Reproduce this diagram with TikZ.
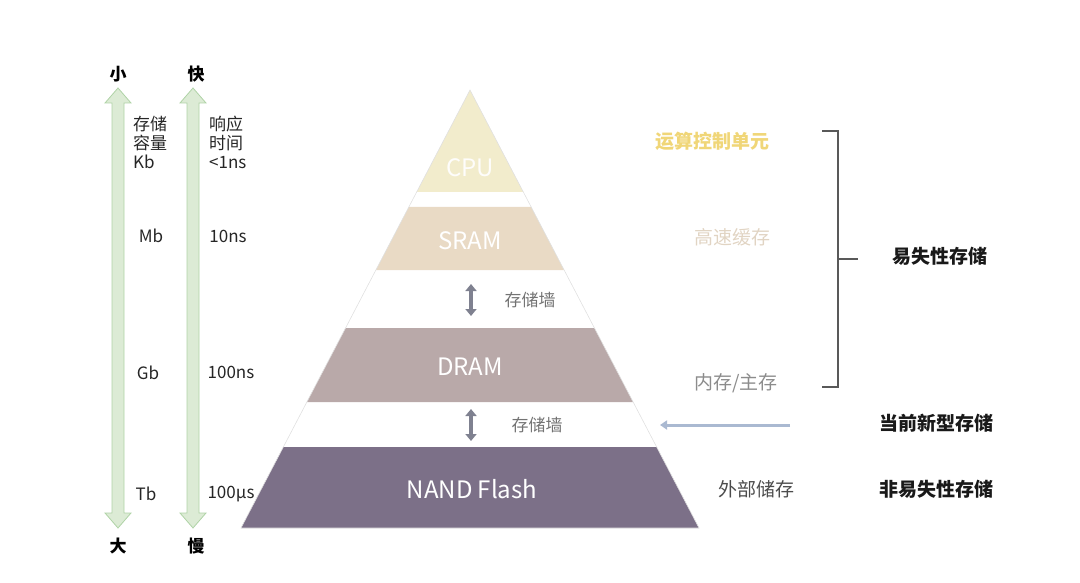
\documentclass[tikz,border=0pt]{standalone}
\usepackage{fontspec}
\setmainfont{Noto Sans CJK SC}
\usetikzlibrary{arrows.meta}
\definecolor{cpu}{HTML}{F2ECCC}
\definecolor{sram}{HTML}{E9DAC5}
\definecolor{dram}{HTML}{B9A9A9}
\definecolor{nand}{HTML}{7C7088}
\definecolor{gfill}{HTML}{DCEBD5}
\definecolor{gline}{HTML}{AFD3A6}
\definecolor{wallc}{HTML}{7F8190}
\definecolor{bluea}{HTML}{AAB9D1}
\tikzset{
  lbl/.style={font=\fontsize{17}{19}\selectfont, text=black!85, align=left, inner sep=0},
  big/.style={font=\fontsize{24}{26}\selectfont, text=white, inner sep=0},
  side/.style={font=\fontsize{19}{21}\selectfont, inner sep=0},
  rt/.style={font=\fontsize{19}{21}\selectfont\bfseries, text=black!90, inner sep=0},
  garrow/.style={fill=gfill, draw=gline, line width=0.8pt},
  wall/.style={line width=4pt, draw=wallc, -{Triangle[length=7pt,width=11pt]}}
}
\begin{document}
\begin{tikzpicture}[x=1pt,y=-1pt]
\useasboundingbox (0,0) rectangle (1080,583);
% green arrows
\foreach \cx in {118,193}{
 \draw[garrow] (\cx,88) -- (\cx+13,103) -- (\cx+6,103) -- (\cx+6,513) -- (\cx+13,513) -- (\cx,528) -- (\cx-13,513) -- (\cx-6,513) -- (\cx-6,103) -- (\cx-13,103) -- cycle;
}
\node[font=\fontsize{17}{19}\selectfont\bfseries] (s) at (118,74) {小};
\node[font=\fontsize{17}{19}\selectfont\bfseries] (k) at (196,74) {快};
\node[font=\fontsize{17}{19}\selectfont\bfseries] (d) at (118,546) {大};
\node[font=\fontsize{17}{19}\selectfont\bfseries] (m) at (196,546) {慢};
\node[lbl,anchor=north west] (c1) at (133,116) {存储\\容量\\Kb};
\node[lbl,anchor=north west] (r1) at (209,116) {响应\\时间\\<1ns};
\node[lbl] (mb) at (151,236) {Mb};
\node[lbl] (t2) at (228,236) {10ns};
\node[lbl] (gb) at (148,373) {Gb};
\node[lbl] (t3) at (231,372) {100ns};
\node[lbl] (tb) at (146,494) {Tb};
\node[lbl] (t4) at (231,494) {100μs};
% pyramid bands
\def\hw#1{((#1-90)/438*229)}
\fill[cpu] (470,90) -- ({470+\hw{192}},192) -- ({470-\hw{192}},192) -- cycle;
\fill[sram] ({470-\hw{207}},207) -- ({470+\hw{207}},207) -- ({470+\hw{270}},270) -- ({470-\hw{270}},270) -- cycle;
\fill[dram] ({470-\hw{328}},328) -- ({470+\hw{328}},328) -- ({470+\hw{402}},402) -- ({470-\hw{402}},402) -- cycle;
\fill[nand] ({470-\hw{447}},447) -- ({470+\hw{447}},447) -- (699,528) -- (241,528) -- cycle;
\draw[black!12, line width=0.6pt] (470,90) -- (699,528) -- (241,528) -- cycle;
\node[big,text=white!92!cpu] (cpu) at (470,168) {CPU};
\node[big] (sr) at (470,241) {SRAM};
\node[big] (dr) at (470,367) {DRAM};
\node[big] (nf) at (472,489) {NAND Flash};
% walls
\coordinate (w1) at (471,300);
\draw[wall] (w1) -- ++(0,-16);
\draw[wall] (w1) -- ++(0,16);
\node[font=\fontsize{17}{19}\selectfont, text=black!55] (wl1) at (530,300) {存储墙};
\coordinate (w2) at (471,425);
\draw[wall] (w2) -- ++(0,-16);
\draw[wall] (w2) -- ++(0,16);
\node[font=\fontsize{17}{19}\selectfont, text=black!55] (wl2) at (537,425) {存储墙};
% right side labels
\node[side,text={rgb,255:red,240;green,214;blue,120},font=\fontsize{19}{21}\selectfont\bfseries] (l1) at (712,141) {运算控制单元};
\node[side,text={rgb,255:red,225;green,212;blue,195}] (l2) at (732,237) {高速缓存};
\node[side,text=black!45] (l3) at (736,383) {内存/主存};
\node[side,text=black!70] (l4) at (756,489) {外部储存};
\draw[black!65, line width=1.2pt] (822,131) -- (838,131) -- (838,387) -- (822,387);
\coordinate (bm) at (838,259);
\coordinate (bt) at (858,259);
\draw[black!65, line width=1.2pt] (bm) -- (bt);
\node[rt] (r1b) at (940,256) {易失性存储};
\node[rt] (r2b) at (936,423) {当前新型存储};
\node[rt] (r3b) at (936,489) {非易失性存储};
\coordinate (ba) at (790,425);
\coordinate (bb) at (660,425);
\draw[bluea, line width=3pt, -{Triangle[length=7pt,width=9pt]}] (ba) -- (bb);
\end{tikzpicture}
\end{document}
